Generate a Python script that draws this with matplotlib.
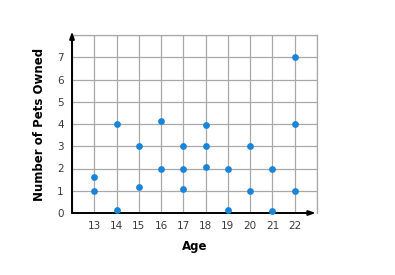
import matplotlib
matplotlib.use("Agg")
import matplotlib.pyplot as plt

ages = [13, 13, 14, 14, 15, 15, 16, 16, 17, 17, 17, 18, 18, 18, 19, 19, 20, 20, 21, 21, 22, 22, 22]
pets = [1.6, 1.0, 4.0, 0.15, 3.0, 1.15, 4.15, 2.0, 3.0, 2.0, 1.1, 3.95, 3.0, 2.05, 2.0, 0.15, 3.0, 1.0, 2.0, 0.1, 7.0, 4.0, 1.0]
x_ticks = list(range(13, 23))
y_ticks = list(range(0, 8))

fig = plt.figure(figsize=(3.95, 2.75), dpi=100)
ax = fig.add_axes([72 / 395, 62 / 275, 245 / 395, 178 / 275])
ax.set_xlim(12, 23)
ax.set_ylim(0, 8)

ax.set_xticks(range(12, 24))
ax.set_yticks(range(0, 9))
ax.set_xticklabels(["" if t not in x_ticks else str(t) for t in range(12, 24)])
ax.set_yticklabels(["" if t not in y_ticks else str(t) for t in range(0, 9)])
ax.grid(True, color="#a8a8a8", linewidth=0.9)
ax.tick_params(length=0, labelsize=7.5, colors="#3a3a3a", pad=6)
for s in ["top", "right"]:
    ax.spines[s].set_color("#a8a8a8")
    ax.spines[s].set_linewidth(0.9)
for s in ["left", "bottom"]:
    ax.spines[s].set_visible(False)

# axis arrows
ax.annotate("", xy=(0, 1.02), xytext=(0, 0), xycoords="axes fraction",
            arrowprops=dict(arrowstyle="-|>,head_length=0.4,head_width=0.14", color="black", lw=1.4, shrinkA=0, shrinkB=0))
ax.annotate("", xy=(0.995, 0), xytext=(0, 0), xycoords="axes fraction",
            arrowprops=dict(arrowstyle="-|>,head_length=0.4,head_width=0.14", color="black", lw=1.4, shrinkA=0, shrinkB=0))

ax.scatter(ages, pets, s=24, color="#1a85d8", zorder=5, clip_on=False, linewidths=0)

ax.set_xlabel("Age", fontsize=8.5, fontweight="bold", labelpad=6)
ax.set_ylabel("Number of Pets Owned", fontsize=8.5, fontweight="bold", labelpad=8)

fig.savefig("out.png", dpi=100)
